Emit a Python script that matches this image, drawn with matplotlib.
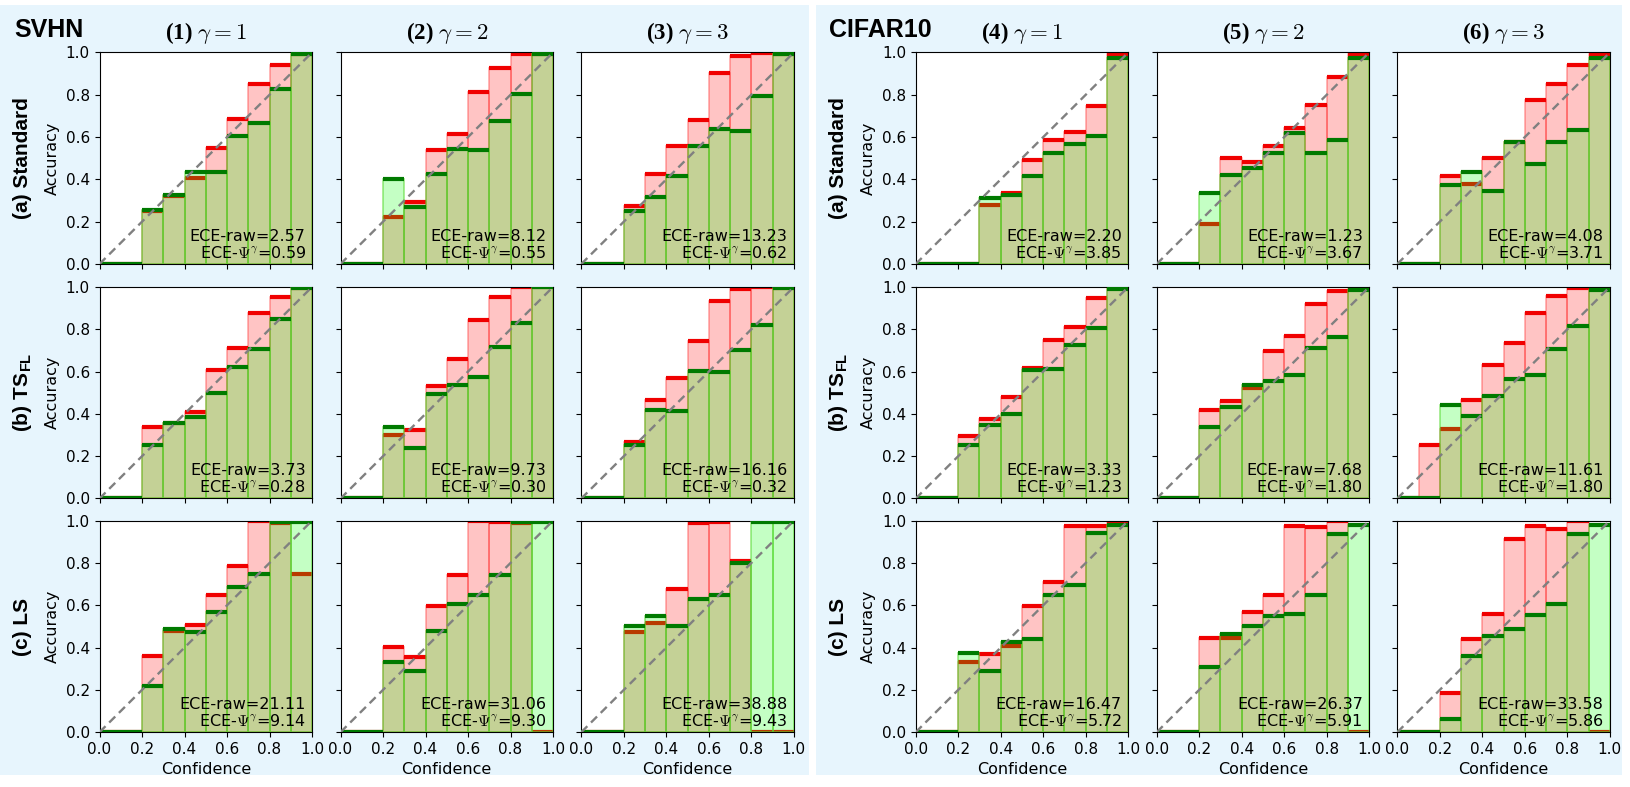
import numpy as np
import matplotlib
matplotlib.use("Agg")
import matplotlib.pyplot as plt
from matplotlib.patches import Rectangle

plt.rcParams['mathtext.fontset'] = 'cm'
plt.rcParams['font.family'] = ['DejaVu Sans']

# ---------------- data ----------------
bin_left = [0.0, 0.1, 0.2, 0.3, 0.4, 0.5, 0.6, 0.7, 0.8, 0.9]
bin_width = 0.1

col_titles = ["(1) $\\gamma=1$", "(2) $\\gamma=2$", "(3) $\\gamma=3$",
              "(4) $\\gamma=1$", "(5) $\\gamma=2$", "(6) $\\gamma=3$"]
row_labels = ["(a) Standard", "(b) TS$_\\mathregular{FL}$", "(c) LS"]
datasets = ["SVHN", "CIFAR10"]

# SVHN - Standard
svhn_std_g1_raw = [0, 0, 0.25, 0.32, 0.405, 0.549, 0.686, 0.852, 0.942, 0.995]
svhn_std_g1_psi = [0, 0, 0.255, 0.325, 0.434, 0.434, 0.604, 0.666, 0.826, 0.995]
svhn_std_g2_raw = [0, 0, 0.221, 0.293, 0.539, 0.615, 0.814, 0.927, 0.994, 0.995]
svhn_std_g2_psi = [0, 0, 0.402, 0.268, 0.426, 0.544, 0.539, 0.677, 0.804, 0.995]
svhn_std_g3_raw = [0, 0, 0.274, 0.426, 0.557, 0.681, 0.904, 0.984, 0.998, 0.995]
svhn_std_g3_psi = [0, 0, 0.249, 0.317, 0.416, 0.557, 0.640, 0.628, 0.795, 0.995]
# SVHN - TS_FL
svhn_ts_g1_raw = [0, 0, 0.340, 0.355, 0.410, 0.607, 0.712, 0.877, 0.951, 0.997]
svhn_ts_g1_psi = [0, 0, 0.253, 0.358, 0.387, 0.500, 0.623, 0.708, 0.849, 0.997]
svhn_ts_g2_raw = [0, 0, 0.300, 0.325, 0.531, 0.659, 0.844, 0.951, 0.998, 0.998]
svhn_ts_g2_psi = [0, 0, 0.338, 0.237, 0.495, 0.538, 0.574, 0.717, 0.829, 0.998]
svhn_ts_g3_raw = [0, 0, 0.267, 0.465, 0.569, 0.744, 0.932, 0.991, 0.998, 0.997]
svhn_ts_g3_psi = [0, 0, 0.253, 0.418, 0.415, 0.601, 0.597, 0.703, 0.822, 0.997]
# SVHN - LS
svhn_ls_g1_raw = [0, 0, 0.362, 0.477, 0.506, 0.651, 0.784, 0.998, 0.990, 0.750]
svhn_ls_g1_psi = [0, 0, 0.220, 0.490, 0.476, 0.566, 0.686, 0.747, 0.994, 0.994]
svhn_ls_g2_raw = [0, 0, 0.401, 0.354, 0.596, 0.741, 0.997, 0.994, 0.990, 0.0]
svhn_ls_g2_psi = [0, 0, 0.330, 0.291, 0.480, 0.608, 0.651, 0.741, 0.994, 0.995]
svhn_ls_g3_raw = [0, 0, 0.474, 0.518, 0.676, 0.989, 0.995, 0.810, 0.0, 0.0]
svhn_ls_g3_psi = [0, 0, 0.501, 0.548, 0.501, 0.629, 0.651, 0.798, 0.994, 0.995]
# CIFAR10 - Standard
cifar_std_g1_raw = [0, 0, 0, 0.278, 0.338, 0.492, 0.585, 0.623, 0.748, 0.991]
cifar_std_g1_psi = [0, 0, 0, 0.311, 0.326, 0.415, 0.524, 0.566, 0.604, 0.973]
cifar_std_g2_raw = [0, 0, 0.189, 0.502, 0.483, 0.557, 0.644, 0.751, 0.883, 0.994]
cifar_std_g2_psi = [0, 0, 0.334, 0.421, 0.454, 0.524, 0.618, 0.524, 0.587, 0.975]
cifar_std_g3_raw = [0, 0, 0.416, 0.377, 0.502, 0.575, 0.776, 0.852, 0.942, 0.995]
cifar_std_g3_psi = [0, 0, 0.374, 0.435, 0.344, 0.576, 0.472, 0.579, 0.634, 0.973]
# CIFAR10 - TS_FL
cifar_ts_g1_raw = [0, 0, 0.296, 0.374, 0.480, 0.618, 0.748, 0.811, 0.947, 1.0]
cifar_ts_g1_psi = [0, 0, 0.253, 0.347, 0.399, 0.607, 0.612, 0.725, 0.805, 0.989]
cifar_ts_g2_raw = [0, 0, 0.418, 0.461, 0.524, 0.697, 0.767, 0.918, 0.981, 1.0]
cifar_ts_g2_psi = [0, 0, 0.338, 0.434, 0.536, 0.555, 0.583, 0.711, 0.763, 0.987]
cifar_ts_g3_raw = [0, 0.253, 0.330, 0.465, 0.629, 0.734, 0.876, 0.956, 0.997, 0.997]
cifar_ts_g3_psi = [0, 0, 0.442, 0.390, 0.484, 0.566, 0.585, 0.708, 0.816, 0.987]
# CIFAR10 - LS
cifar_ls_g1_raw = [0, 0, 0.330, 0.368, 0.409, 0.596, 0.709, 0.973, 0.973, 0.998]
cifar_ls_g1_psi = [0, 0, 0.373, 0.288, 0.428, 0.439, 0.648, 0.698, 0.942, 0.978]
cifar_ls_g2_raw = [0, 0, 0.447, 0.444, 0.570, 0.648, 0.973, 0.968, 1.0, 0.0]
cifar_ls_g2_psi = [0, 0, 0.306, 0.463, 0.501, 0.551, 0.561, 0.651, 0.935, 0.978]
cifar_ls_g3_raw = [0, 0, 0.183, 0.442, 0.559, 0.915, 0.976, 0.959, 1.0, 0.0]
cifar_ls_g3_psi = [0, 0, 0.063, 0.359, 0.453, 0.490, 0.553, 0.608, 0.935, 0.978]

# ECE values (raw, psi) per row, per column
ece_raw = [[2.57, 8.12, 13.23, 2.20, 1.23, 4.08],
           [3.73, 9.73, 16.16, 3.33, 7.68, 11.61],
           [21.11, 31.06, 38.88, 16.47, 26.37, 33.58]]
ece_psi = [[0.59, 0.55, 0.62, 3.85, 3.67, 3.71],
           [0.28, 0.30, 0.32, 1.23, 1.80, 1.80],
           [9.14, 9.30, 9.43, 5.72, 5.91, 5.86]]

grid_raw = [
    [svhn_std_g1_raw, svhn_std_g2_raw, svhn_std_g3_raw, cifar_std_g1_raw, cifar_std_g2_raw, cifar_std_g3_raw],
    [svhn_ts_g1_raw, svhn_ts_g2_raw, svhn_ts_g3_raw, cifar_ts_g1_raw, cifar_ts_g2_raw, cifar_ts_g3_raw],
    [svhn_ls_g1_raw, svhn_ls_g2_raw, svhn_ls_g3_raw, cifar_ls_g1_raw, cifar_ls_g2_raw, cifar_ls_g3_raw],
]
grid_psi = [
    [svhn_std_g1_psi, svhn_std_g2_psi, svhn_std_g3_psi, cifar_std_g1_psi, cifar_std_g2_psi, cifar_std_g3_psi],
    [svhn_ts_g1_psi, svhn_ts_g2_psi, svhn_ts_g3_psi, cifar_ts_g1_psi, cifar_ts_g2_psi, cifar_ts_g3_psi],
    [svhn_ls_g1_psi, svhn_ls_g2_psi, svhn_ls_g3_psi, cifar_ls_g1_psi, cifar_ls_g2_psi, cifar_ls_g3_psi],
]

# ---------------- layout ----------------
W, H = 1630, 787
fig = plt.figure(figsize=(W / 100, H / 100), dpi=100)
fig.patch.set_facecolor('white')

bg = '#e7f5fd'
fig.patches.append(Rectangle((0, 1 - 775 / H), 809 / W, 770 / H, transform=fig.transFigure,
                             facecolor=bg, edgecolor='none', zorder=-10))
fig.patches.append(Rectangle((816 / W, 1 - 775 / H), (1622 - 816) / W, 770 / H, transform=fig.transFigure,
                             facecolor=bg, edgecolor='none', zorder=-10))

col_left = [99.5, 340.5, 581.3, 915.7, 1156.7, 1397.3]
row_top = [52.5, 287.0, 520.7]
aw, ah = 212.5, 211.5

left_bins = np.array(bin_left)
for r in range(3):
    for c in range(6):
        l, t = col_left[c], row_top[r]
        ax = fig.add_axes([l / W, 1 - (t + ah) / H, aw / W, ah / H])
        raw = np.array(grid_raw[r][c])
        psi = np.array(grid_psi[r][c])
        ax.bar(left_bins, raw, width=bin_width, align='edge',
               color=(1, 0, 0, 0.23), edgecolor=(1, 0.25, 0.25, 0.45), linewidth=1.2, zorder=1)
        ax.hlines(raw, left_bins, left_bins + bin_width, colors='#f00000', linewidth=3.0, zorder=2)
        ax.bar(left_bins, psi, width=bin_width, align='edge',
               color=(0, 1, 0, 0.23), edgecolor=(0.35, 0.85, 0.2, 0.55), linewidth=1.3, zorder=3)
        ax.hlines(psi, left_bins, left_bins + bin_width, colors='#007a00', linewidth=3.0, zorder=4)
        ax.plot([0, 1], [0, 1], linestyle=(0, (3.6, 2.2)), color='gray', linewidth=1.7, zorder=5)
        ax.set_xlim(0, 1)
        ax.set_ylim(0, 1)
        ax.set_xticks([0, 0.2, 0.4, 0.6, 0.8, 1.0])
        ax.set_yticks([0, 0.2, 0.4, 0.6, 0.8, 1.0])
        ax.tick_params(labelsize=11)
        if r < 2:
            ax.set_xticklabels([])
        else:
            ax.set_xlabel('Confidence', fontsize=11.5)
        if c in (0, 3):
            ax.set_ylabel('Accuracy', fontsize=11.5)
        else:
            ax.set_yticklabels([])
        ax.text(0.97, 23.0 / ah, 'ECE-raw=%.2f' % ece_raw[r][c],
                transform=ax.transAxes, ha='right', va='baseline', fontsize=11.5, zorder=6)
        ax.text(0.97, 6.0 / ah, 'ECE-$\\mathbf{\\Psi}^{\\gamma}$=%.2f' % ece_psi[r][c],
                transform=ax.transAxes, ha='right', va='baseline', fontsize=11.5, zorder=6)
        if r == 0:
            fig.text((l + aw / 2) / W, 1 - 39 / H, col_titles[c], ha='center', va='baseline',
                     fontsize=16.5, family='Liberation Serif', weight='bold')
        if c in (0, 3):
            xlab = 23 if c == 0 else 838
            fig.text(xlab / W, 1 - (t + ah / 2) / H, row_labels[r], rotation=90,
                     ha='center', va='center', fontsize=15, weight='bold', family='Liberation Sans')

fig.text(14 / W, 1 - 36.7 / H, datasets[0], ha='left', va='baseline', fontsize=18,
         weight='bold', family='Liberation Sans')
fig.text(829 / W, 1 - 36.7 / H, datasets[1], ha='left', va='baseline', fontsize=18,
         weight='bold', family='Liberation Sans')

fig.savefig('out.png', dpi=100)
